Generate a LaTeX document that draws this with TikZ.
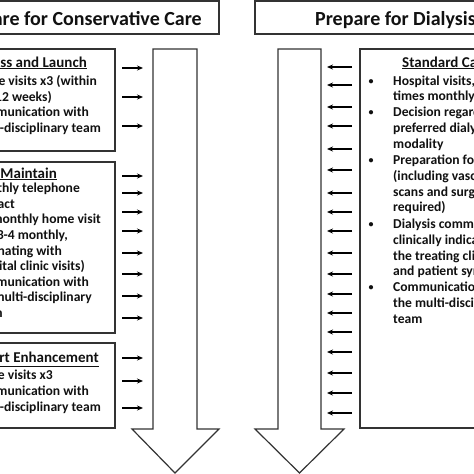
\documentclass[tikz,border=0pt]{standalone}
\usepackage{fontspec}
\setmainfont{Carlito}[BoldFont={Carlito Bold}]
\usetikzlibrary{arrows.meta}
\definecolor{linec}{HTML}{333333}
\definecolor{txtc}{HTML}{111111}
\tikzset{
  box/.style={draw=linec, line width=1.2pt, fill=white},
  bigarrow/.style={draw=linec, line width=1.2pt, fill=white, line join=miter},
  smallarr/.style={draw=black, line width=1.1pt, -{Stealth[length=6pt,width=5pt]}},
  hdr/.style={font=\fontsize{20}{24}\selectfont\bfseries, text=txtc, inner sep=0pt},
  ttl/.style={font=\fontsize{15}{18}\selectfont\bfseries, text=txtc, inner sep=0pt},
  txt/.style={font=\fontsize{13.6}{16}\selectfont\bfseries, text=txtc, inner sep=0pt},
  bul/.style={font=\fontsize{10}{12}\selectfont\bfseries, text=txtc, inner sep=0pt},
}
\begin{document}
\begin{tikzpicture}[x=1pt,y=-1pt]
\useasboundingbox (0,0) rectangle (474,474);
% header boxes
\draw[box] (-20,1) rectangle (219,34);
\draw[box] (255,1) rectangle (494,34);
\node[hdr, anchor=base east] (h1) at (202,25) {Prepare for Conservative Care};
\node[hdr, anchor=base west] (h2) at (315,25) {Prepare for Dialysis};
% big arrows
\draw[bigarrow] (153,49) -- (197,49) -- (197,429) -- (219,429) -- (175,473) -- (132,429) -- (153,429) -- cycle;
\draw[bigarrow] (278,49) -- (321,49) -- (321,429) -- (344,429) -- (299.5,473) -- (255,429) -- (278,429) -- cycle;
% left boxes
\draw[box] (-20,49) rectangle (115,151);
\draw[box] (-20,162) rectangle (115,333);
\draw[box] (-20,343) rectangle (115,428);
% right box
\draw[box] (360,49) rectangle (494,428);
% box 1 text
\node[ttl, anchor=base east] (b1t) at (87,67) {\underline{Assess and Launch}};
\node[txt, anchor=base east] (b1a) at (97,85) {Home visits x3 (within};
\node[txt, anchor=base east] (b1b) at (52,101) {12 weeks)};
\node[txt, anchor=base east] (b1c) at (89,116) {Communication with};
\node[txt, anchor=base east] (b1d) at (101,132) {multi-disciplinary team};
% box 2 text
\node[ttl, anchor=base east] (b2t) at (57,178) {\underline{Maintain}};
\node[txt, anchor=base east] (b2a) at (80,192) {Monthly telephone};
\node[txt, anchor=base east] (b2b) at (15,208) {contact};
\node[txt, anchor=base east] (b2c) at (101,223) {monthly home visit};
\node[txt, anchor=base east] (b2d) at (68,239) {3-4 monthly,};
\node[txt, anchor=base east] (b2e) at (62,255) {alternating with};
\node[txt, anchor=base east] (b2f) at (85,270) {hospital clinic visits)};
\node[txt, anchor=base east] (b2g) at (89,286) {Communication with};
\node[txt, anchor=base east] (b2h) at (92,301) {multi-disciplinary};
\node[txt, anchor=base east] (b2i) at (3,317) {team};
% box 3 text
\node[ttl, anchor=base east] (b3t) at (99,362) {\underline{Support Enhancement}};
\node[txt, anchor=base east] (b3a) at (53,379) {Home visits x3};
\node[txt, anchor=base east] (b3b) at (89,395) {Communication with};
\node[txt, anchor=base east] (b3c) at (101,411) {multi-disciplinary team};
% right box text
\node[ttl, anchor=base west] (rt) at (402,67) {\underline{Standard Care}};
\foreach \yy in {84,115,163,227,290} \node[bul, anchor=base] at (371,\yy) {•};
\node[txt, anchor=base west] (r1) at (393,85) {Hospital visits,};
\node[txt, anchor=base west] (r2) at (393,100) {times monthly};
\node[txt, anchor=base west] (r3) at (393,116) {Decision regarding};
\node[txt, anchor=base west] (r4) at (393,132) {preferred dialysis};
\node[txt, anchor=base west] (r5) at (393,148) {modality};
\node[txt, anchor=base west] (r6) at (393,164) {Preparation for};
\node[txt, anchor=base west] (r7) at (393,180) {(including vascular};
\node[txt, anchor=base west] (r8) at (393,196) {scans and surgery};
\node[txt, anchor=base west] (r9) at (393,211) {required)};
\node[txt, anchor=base west] (r10) at (393,228) {Dialysis commences};
\node[txt, anchor=base west] (r11) at (393,244) {clinically indicated};
\node[txt, anchor=base west] (r12) at (393,260) {the treating clinician};
\node[txt, anchor=base west] (r13) at (393,275) {and patient symptoms};
\node[txt, anchor=base west] (r14) at (393,291) {Communication};
\node[txt, anchor=base west] (r15) at (393,307) {the multi-disciplinary};
\node[txt, anchor=base west] (r16) at (393,323) {team};
% small arrows left
\foreach \yy in {68,97,126,176,193,212,231,253,274,296,318,358,381,408}
  \draw[smallarr] (122,\yy) -- (143,\yy);
% small arrows right
\foreach \yy in {67,85,107,126,149,170,193,212,231,253,274,294,313,332,352,373,393,413}
  \draw[smallarr] (352,\yy) -- (327,\yy);
\end{tikzpicture}
\end{document}
